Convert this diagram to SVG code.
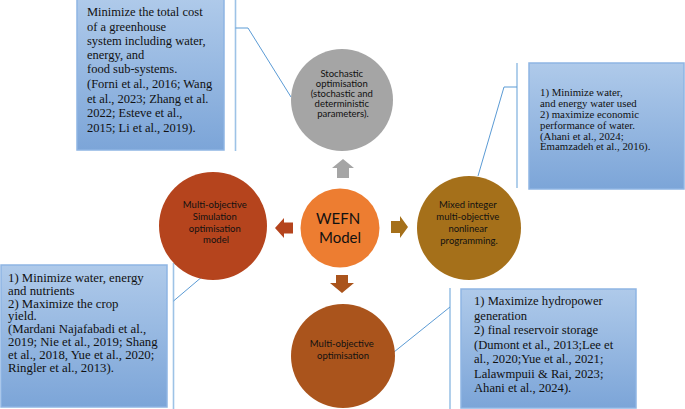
<svg xmlns="http://www.w3.org/2000/svg" width="685" height="409" viewBox="0 0 685 409">
<defs>
<linearGradient id="boxg" x1="0" y1="0" x2="0" y2="1">
<stop offset="0" stop-color="#AFCAEA"/>
<stop offset="1" stop-color="#7CA5D8"/>
</linearGradient>
<style>
.box{fill:url(#boxg);stroke:#8EB5E3;stroke-width:1.5}
.bar{stroke:#9DC3E6;stroke-width:1.6;fill:none}
.lead{stroke:#5B9BD5;stroke-width:1;fill:none}
.bt{fill:#111}
.ct{font-family:Lato,'Liberation Sans',sans-serif;font-size:9.5px;fill:#111;text-anchor:middle}
</style>
</defs>
<rect width="685" height="409" fill="#fff"/>

<g id="connectors">
<polygon points="343,159 354,168 349,168 349,178 337,178 337,168 332,168" fill="#A5A5A5"/>
<polygon points="275,228 284,218 284,222.5 293,222.5 293,233.5 284,233.5 284,238" fill="#B5441D"/>
<polygon points="408,227 400,216 400,221 391,221 391,233 400,233 400,238" fill="#A5701A"/>
<polygon points="342,293 354,283 348,283 348,275 336,275 336,283 330,283" fill="#AA541C"/>
<line class="bar" x1="235.5" y1="0" x2="235.5" y2="151"/>
<polyline class="lead" points="235.5,28 248,28 291,97"/>
<line class="bar" x1="517" y1="63" x2="517" y2="188"/>
<polyline class="lead" points="517,87 504,87 478,176"/>
<line class="bar" x1="173.5" y1="263" x2="173.5" y2="409"/>
<polyline class="lead" points="173.5,301 203,276"/>
<line class="bar" x1="450" y1="288" x2="450" y2="409"/>
<polyline class="lead" points="450,307 394,352"/>
</g>

<g id="box-greenhouse">
<rect class="box" x="77" y="-2" width="147" height="152"/>
<text class="bt" font-family="Liberation Serif, Times New Roman, serif" font-size="12.5">
<tspan x="87" y="16">Minimize the total cost</tspan>
<tspan x="87" y="30.5">of a greenhouse</tspan>
<tspan x="87" y="45">system including water,</tspan>
<tspan x="87" y="58.5">energy, and</tspan>
<tspan x="87" y="73">food sub-systems.</tspan>
<tspan x="87" y="88">(Forni et al., 2016; Wang</tspan>
<tspan x="87" y="102.5">et al., 2023; Zhang et al.</tspan>
<tspan x="87" y="117">2022; Esteve et al.,</tspan>
<tspan x="87" y="132">2015; Li et al., 2019).</tspan>
</text>
</g>

<g id="box-mixed">
<rect class="box" x="529" y="63" width="155" height="126"/>
<text class="bt" font-family="Liberation Serif, Times New Roman, serif" font-size="10.8">
<tspan x="540" y="96">1) Minimize water,</tspan>
<tspan x="540" y="107">and energy water used</tspan>
<tspan x="540" y="118">2) maximize economic</tspan>
<tspan x="540" y="128.5">performance of water.</tspan>
<tspan x="540" y="139.5">(Ahani et al., 2024;</tspan>
<tspan x="540" y="150">Emamzadeh et al., 2016).</tspan>
</text>
</g>

<g id="box-simulation">
<rect class="box" x="1" y="265" width="166" height="142"/>
<text class="bt" font-family="Liberation Serif, Times New Roman, serif" font-size="12.8">
<tspan x="8" y="282">1) Minimize  water, energy</tspan>
<tspan x="8" y="295">and nutrients</tspan>
<tspan x="8" y="307.5">2) Maximize the crop</tspan>
<tspan x="8" y="320">yield.</tspan>
<tspan x="8" y="333">(Mardani Najafabadi et al.,</tspan>
<tspan x="8" y="346">2019; Nie et al., 2019; Shang</tspan>
<tspan x="8" y="359">et al., 2018, Yue et al., 2020;</tspan>
<tspan x="8" y="371.5">Ringler et al., 2013).</tspan>
</text>
</g>

<g id="box-multi">
<rect class="box" x="461" y="289" width="175" height="119"/>
<text class="bt" font-family="Liberation Serif, Times New Roman, serif" font-size="12.6">
<tspan x="474" y="305">1) Maximize hydropower</tspan>
<tspan x="474" y="319.5">generation</tspan>
<tspan x="474" y="334">2) final reservoir storage</tspan>
<tspan x="474" y="348.5">(Dumont et al., 2013;Lee et</tspan>
<tspan x="474" y="363">al., 2020;Yue et al., 2021;</tspan>
<tspan x="474" y="377.5">Lalawmpuii &amp; Rai, 2023;</tspan>
<tspan x="474" y="392">Ahani et al., 2024).</tspan>
</text>
</g>

<g id="node-stochastic">
<circle cx="342" cy="100" r="51" fill="#A5A5A5"/>
<text class="ct">
<tspan x="343" y="76.5">Stochastic</tspan>
<tspan x="343" y="86.5">optimisation</tspan>
<tspan x="343" y="96.5">(stochastic and</tspan>
<tspan x="343" y="106.5">deterministic</tspan>
<tspan x="343" y="116.5">parameters).</tspan>
</text>
</g>

<g id="node-wefn">
<circle cx="340" cy="228" r="39.5" fill="#ED7D31"/>
<text class="ct" style="font-size:15px">
<tspan x="340" y="224">WEFN</tspan>
<tspan x="340" y="243">Model</tspan>
</text>
</g>

<g id="node-simulation">
<circle cx="213" cy="226" r="54" fill="#B5441D"/>
<text class="ct">
<tspan x="216" y="208">Multi-objective</tspan>
<tspan x="216" y="220">Simulation</tspan>
<tspan x="216" y="231.5">optimisation</tspan>
<tspan x="216" y="243">model</tspan>
</text>
</g>

<g id="node-mixed">
<circle cx="469" cy="228" r="52" fill="#A5701A"/>
<text class="ct">
<tspan x="469" y="207.5">Mixed integer</tspan>
<tspan x="469" y="220">multi-objective</tspan>
<tspan x="469" y="232">nonlinear</tspan>
<tspan x="469" y="243.5">programming.</tspan>
</text>
</g>

<g id="node-multi">
<circle cx="343" cy="356" r="52" fill="#AA541C"/>
<text class="ct">
<tspan x="343" y="346.5">Multi-objective</tspan>
<tspan x="343" y="358.5">optimisation</tspan>
</text>
</g>
</svg>
